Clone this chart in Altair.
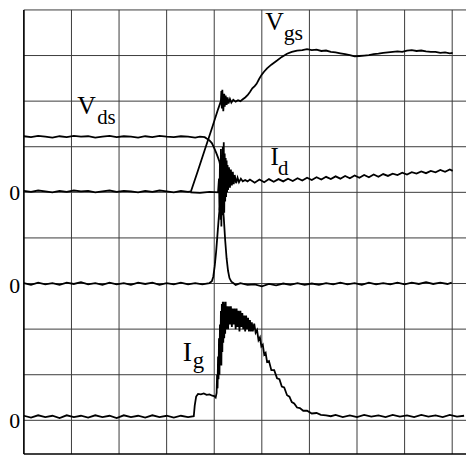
import altair as alt
import pandas as pd

# Oscilloscope screen: time in divisions, amplitude in divisions above each trace's zero line
VGS_POINTS = [
    (0.00, 0.03), (0.15, 0.01), (0.30, 0.04), (0.45, 0.02), (0.60, 0.00), (0.75, 0.03), (0.90, 0.01),
    (1.05, 0.04), (1.20, 0.02), (1.35, 0.03), (1.50, 0.00), (1.65, 0.02), (1.80, 0.04), (1.95, 0.01),
    (2.10, 0.03), (2.25, 0.02), (2.40, 0.00), (2.55, 0.03), (2.70, 0.01), (2.85, 0.04), (3.00, 0.02),
    (3.15, 0.00), (3.30, 0.03), (3.45, 0.01), (3.51, 0.02),
    (3.65, 0.45), (3.80, 0.93), (3.95, 1.40), (4.08, 1.82), (4.14, 2.00),
    (4.15, 2.22), (4.16, 1.84), (4.17, 2.25), (4.19, 1.78), (4.21, 2.16), (4.22, 1.88), (4.24, 2.12),
    (4.26, 1.92), (4.28, 2.08), (4.30, 1.95), (4.33, 2.05), (4.36, 1.97), (4.40, 2.03), (4.45, 1.99),
    (4.50, 2.02), (4.55, 2.00), (4.60, 2.04),
    (4.65, 2.08), (4.70, 2.13), (4.75, 2.20), (4.80, 2.28), (4.85, 2.33), (4.89, 2.38), (4.94, 2.48),
    (4.99, 2.57), (5.05, 2.65), (5.11, 2.72), (5.20, 2.80), (5.32, 2.89), (5.42, 2.97), (5.53, 3.04),
    (5.63, 3.08), (5.74, 3.11), (5.85, 3.12), (5.95, 3.14), (6.05, 3.12), (6.15, 3.13), (6.25, 3.10),
    (6.35, 3.11), (6.45, 3.08), (6.55, 3.07), (6.65, 3.05), (6.75, 3.03), (6.85, 3.01), (6.95, 2.98),
    (7.05, 2.99), (7.15, 3.00), (7.25, 3.01), (7.35, 3.03), (7.45, 3.04), (7.55, 3.06), (7.65, 3.07),
    (7.75, 3.08), (7.85, 3.09), (7.95, 3.08), (8.05, 3.11), (8.15, 3.12), (8.25, 3.10), (8.35, 3.11),
    (8.45, 3.09), (8.55, 3.08), (8.65, 3.08), (8.75, 3.06), (8.85, 3.07), (8.95, 3.05), (9.01, 3.06),
]

VDS_POINTS = [
    (0.00, 1.23), (0.15, 1.21), (0.30, 1.24), (0.45, 1.22), (0.60, 1.20), (0.75, 1.23), (0.90, 1.21),
    (1.05, 1.24), (1.20, 1.22), (1.35, 1.23), (1.50, 1.20), (1.65, 1.22), (1.80, 1.24), (1.95, 1.21),
    (2.10, 1.23), (2.25, 1.22), (2.40, 1.20), (2.55, 1.23), (2.70, 1.21), (2.85, 1.24), (3.00, 1.22),
    (3.15, 1.21), (3.30, 1.23), (3.45, 1.22), (3.60, 1.20), (3.70, 1.22), (3.80, 1.21), (3.84, 1.18),
    (3.90, 1.14), (3.95, 1.08), (4.00, 0.97), (4.04, 0.87), (4.08, 0.76), (4.11, 0.67), (4.15, 0.45),
    (4.18, 0.24),
]

ID_POINTS = [
    (3.50, 0.00), (3.70, -0.01), (3.90, 0.01), (4.08, 0.00),
    (4.10, 0.30), (4.11, -0.40), (4.12, 0.70), (4.13, -0.60), (4.14, 0.95), (4.15, -0.75), (4.16, 0.80),
    (4.17, -0.50), (4.18, 1.00), (4.19, -0.30), (4.20, 1.10), (4.21, -0.45), (4.22, 0.85), (4.23, -0.20),
    (4.24, 0.75), (4.25, -0.10), (4.26, 0.70), (4.27, 0.00), (4.28, 0.60), (4.29, 0.05), (4.31, 0.55),
    (4.33, 0.10), (4.35, 0.50), (4.37, 0.15), (4.39, 0.45), (4.41, 0.18), (4.43, 0.38), (4.46, 0.20),
    (4.49, 0.32), (4.52, 0.22), (4.56, 0.30), (4.60, 0.24), (4.65, 0.27), (4.70, 0.24),
    (4.75, 0.28), (4.85, 0.21), (4.95, 0.28), (5.05, 0.22), (5.15, 0.29), (5.25, 0.23), (5.35, 0.29),
    (5.45, 0.24), (5.55, 0.30), (5.65, 0.25), (5.75, 0.31), (5.85, 0.26), (5.95, 0.32), (6.05, 0.27),
    (6.15, 0.33), (6.25, 0.28), (6.35, 0.34), (6.45, 0.29), (6.55, 0.35), (6.65, 0.30), (6.75, 0.36),
    (6.85, 0.31), (6.95, 0.37), (7.05, 0.32), (7.15, 0.38), (7.25, 0.33), (7.35, 0.39), (7.45, 0.34),
    (7.55, 0.40), (7.65, 0.36), (7.75, 0.41), (7.85, 0.38), (7.95, 0.43), (8.05, 0.39), (8.15, 0.44),
    (8.25, 0.41), (8.35, 0.46), (8.45, 0.42), (8.55, 0.47), (8.65, 0.44), (8.75, 0.49), (8.85, 0.45),
    (8.95, 0.50), (9.01, 0.47),
]

CH3_POINTS = [
    (0.00, 0.01), (0.15, -0.03), (0.30, 0.02), (0.45, -0.02), (0.60, 0.01), (0.75, -0.03), (0.90, 0.02),
    (1.05, -0.01), (1.20, 0.03), (1.35, -0.02), (1.50, 0.01), (1.65, -0.03), (1.80, 0.02), (1.95, -0.02),
    (2.10, 0.01), (2.25, -0.03), (2.40, 0.02), (2.55, -0.01), (2.70, 0.02), (2.85, -0.03), (3.00, 0.01),
    (3.15, -0.02), (3.30, 0.02), (3.45, -0.02), (3.60, 0.01), (3.75, -0.02), (3.90, 0.01),
    (3.95, 0.05), (3.98, 0.15), (4.01, 0.38), (4.04, 0.70), (4.07, 1.10), (4.10, 1.50), (4.13, 1.80),
    (4.15, 1.90), (4.17, 1.80), (4.20, 1.45), (4.23, 0.95), (4.26, 0.55), (4.29, 0.28), (4.32, 0.12),
    (4.36, 0.04), (4.40, 0.01), (4.45, -0.03),
    (4.55, 0.01), (4.70, -0.03), (4.85, -0.02), (5.00, -0.06), (5.15, -0.01), (5.30, -0.04), (5.45, 0.00),
    (5.60, -0.03), (5.75, 0.01), (5.90, -0.03), (6.05, 0.00), (6.20, -0.03), (6.35, 0.01), (6.50, -0.02),
    (6.65, 0.02), (6.80, -0.02), (6.95, 0.01), (7.10, -0.03), (7.25, 0.02), (7.40, -0.02), (7.55, 0.01),
    (7.70, -0.02), (7.85, 0.02), (8.00, -0.02), (8.15, 0.02), (8.30, -0.01), (8.45, 0.03), (8.60, -0.01),
    (8.75, 0.02), (8.90, -0.01), (8.99, 0.02),
]

IG_POINTS = [
    (0.00, 0.10), (0.15, 0.06), (0.30, 0.11), (0.45, 0.07), (0.60, 0.10), (0.75, 0.05), (0.90, 0.11),
    (1.05, 0.07), (1.20, 0.10), (1.35, 0.06), (1.50, 0.11), (1.65, 0.07), (1.80, 0.10), (1.95, 0.05),
    (2.10, 0.11), (2.25, 0.07), (2.40, 0.10), (2.55, 0.06), (2.70, 0.11), (2.85, 0.07), (3.00, 0.10),
    (3.15, 0.06), (3.30, 0.10), (3.45, 0.07), (3.57, 0.09),
    (3.59, 0.32), (3.62, 0.52), (3.66, 0.58), (3.72, 0.57), (3.78, 0.59), (3.84, 0.56), (3.90, 0.57),
    (3.96, 0.54), (4.00, 0.53), (4.03, 0.50),
    (4.05, 0.60), (4.06, 1.00), (4.07, 0.70), (4.08, 1.40), (4.09, 0.90), (4.10, 1.80), (4.11, 1.00),
    (4.12, 2.10), (4.13, 1.30), (4.14, 2.40), (4.15, 1.20), (4.16, 2.55), (4.17, 1.50), (4.18, 2.60),
    (4.19, 1.70), (4.20, 2.60), (4.21, 1.80), (4.22, 2.55), (4.23, 1.90), (4.24, 2.60), (4.25, 2.00),
    (4.27, 2.50), (4.29, 2.00), (4.31, 2.50), (4.33, 2.10), (4.35, 2.50), (4.37, 2.05), (4.39, 2.45),
    (4.41, 2.10), (4.43, 2.45), (4.45, 2.00), (4.47, 2.45), (4.49, 2.05), (4.51, 2.40), (4.53, 1.95),
    (4.55, 2.40), (4.57, 2.05), (4.59, 2.35), (4.61, 2.00), (4.63, 2.30), (4.65, 1.95), (4.67, 2.30),
    (4.69, 2.00), (4.71, 2.25), (4.73, 1.95), (4.75, 2.20), (4.77, 1.95), (4.79, 2.15), (4.81, 1.95),
    (4.84, 2.12), (4.87, 1.92), (4.90, 1.98), (4.93, 1.76), (4.96, 1.82), (4.99, 1.62), (5.02, 1.66),
    (5.05, 1.44), (5.08, 1.48), (5.11, 1.28), (5.15, 1.30), (5.20, 1.10), (5.26, 1.10), (5.32, 0.92),
    (5.37, 0.90), (5.42, 0.74), (5.47, 0.72), (5.53, 0.55), (5.58, 0.52), (5.63, 0.40), (5.68, 0.37),
    (5.74, 0.28), (5.80, 0.27), (5.87, 0.21), (5.95, 0.21), (6.05, 0.15), (6.15, 0.16), (6.24, 0.12),
    (6.35, 0.11), (6.45, 0.09), (6.55, 0.12), (6.70, 0.07), (6.85, 0.11), (7.00, 0.07), (7.15, 0.12),
    (7.30, 0.08), (7.45, 0.11), (7.60, 0.07), (7.75, 0.12), (7.90, 0.08), (8.05, 0.11), (8.20, 0.07),
    (8.35, 0.12), (8.50, 0.08), (8.65, 0.11), (8.80, 0.07), (8.95, 0.12), (9.10, 0.08), (9.25, 0.10),
]

TRACES = ["Vgs", "Vds", "Id", "ch3", "Ig"]
TRACE_POINTS = [VGS_POINTS, VDS_POINTS, ID_POINTS, CH3_POINTS, IG_POINTS]
TRACE_ZERO = [5, 5, 5, 3, 0]   # grid division holding each trace's zero

LABEL_TEXT = ["V", "ds", "V", "gs", "I", "d", "I", "g"]
LABEL_X = [1.12, 1.54, 5.07, 5.46, 5.18, 5.34, 3.34, 3.55]
LABEL_Y = [6.72, 6.50, 8.57, 8.35, 5.61, 5.39, 1.30, 1.14]
LABEL_SIZE = [26, 21, 26, 22, 25, 21, 28, 23]

ZERO_TEXT = ["0", "0", "0"]
ZERO_X = [-0.19, -0.19, -0.19]
ZERO_Y = [4.83, 2.80, -0.17]

X_GRID = [0, 1, 2, 3, 4, 5, 6, 7, 8, 9]
Y_GRID = [0, 1, 2, 3, 4, 5, 6, 7, 8, 9]
Y_BOTTOM = -0.74
X_RIGHT = 9.29

rows = []
for name, pts, zero in zip(TRACES, TRACE_POINTS, TRACE_ZERO):
    for i, (t, v) in enumerate(pts):
        rows.append({"trace": name, "i": i, "t": t, "y": v + zero})
df = pd.DataFrame(rows)

labels = pd.DataFrame({"text": LABEL_TEXT, "x": LABEL_X, "y": LABEL_Y, "size": LABEL_SIZE})
zeros = pd.DataFrame({"text": ZERO_TEXT, "x": ZERO_X, "y": ZERO_Y})
vgrid = pd.DataFrame({"x": X_GRID})
hgrid = pd.DataFrame({"y": Y_GRID})
frame = pd.DataFrame({"y": [Y_BOTTOM]})
left = pd.DataFrame({"x": [0]})

xs = alt.Scale(domain=[0, X_RIGHT], nice=False, zero=False)
ys = alt.Scale(domain=[Y_BOTTOM, 9.0], nice=False, zero=False)

vlines = alt.Chart(vgrid).mark_rule(color="#3a3a3a", strokeWidth=1).encode(
    x=alt.X("x:Q", scale=xs, axis=None))
hlines = alt.Chart(hgrid).mark_rule(color="#3a3a3a", strokeWidth=1).encode(
    y=alt.Y("y:Q", scale=ys, axis=None))
bottom = alt.Chart(frame).mark_rule(color="black", strokeWidth=1.5).encode(
    y=alt.Y("y:Q", scale=ys, axis=None))
leftb = alt.Chart(left).mark_rule(color="black", strokeWidth=1.5).encode(
    x=alt.X("x:Q", scale=xs, axis=None))

lines = alt.Chart(df).mark_line(color="black", strokeWidth=1.8, clip=True).encode(
    x=alt.X("t:Q", scale=xs, axis=None),
    y=alt.Y("y:Q", scale=ys, axis=None),
    detail="trace:N",
    order="i:Q",
)

text = alt.Chart(labels).mark_text(align="left", baseline="alphabetic", font="Liberation Serif",
                                   color="black").encode(
    x=alt.X("x:Q", scale=xs, axis=None),
    y=alt.Y("y:Q", scale=ys, axis=None),
    text="text:N",
    size=alt.Size("size:Q", scale=None, legend=None),
)

zero_text = alt.Chart(zeros).mark_text(align="center", baseline="alphabetic", font="Liberation Serif",
                                       fontSize=22, color="black").encode(
    x=alt.X("x:Q", scale=xs, axis=None),
    y=alt.Y("y:Q", scale=ys, axis=None),
    text="text:N",
)

chart = alt.layer(vlines, hlines, bottom, leftb, lines, text, zero_text).properties(
    width=446, height=448,
    autosize=alt.AutoSizeParams(type="none"),
    padding={"left": 16, "top": 0, "right": 0, "bottom": 0},
    background="white",
).configure_view(stroke=None)

chart.save("out.html", embed_options={"renderer": "svg", "actions": False})
